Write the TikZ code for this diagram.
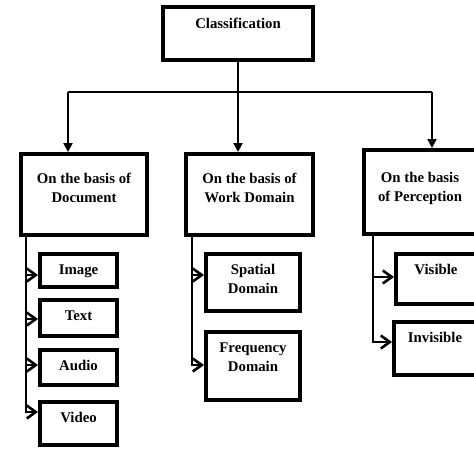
\documentclass[tikz,border=0pt]{standalone}
\usepackage{fontspec}
\setmainfont{Liberation Serif}
\usetikzlibrary{arrows.meta}

\tikzset{
	box/.style={draw, line width=2pt, anchor=north west, inner sep=0pt},
	lbl/.style={anchor=north, inner sep=0pt, yshift=-6pt, align=center, font=\fontsize{7.4}{9.5}\selectfont\bfseries},
	head/.style={lbl, yshift=-4.5pt},
	down/.style={line width=1.3pt, -{Triangle[length=4.5pt,width=4.5pt]}},
	sub/.style={line width=1.3pt, -{Straight Barb[length=4.5pt,width=6.5pt]}}
}

\begin{document}
\begin{tikzpicture}[x=0.5pt,y=-0.5pt]
	\useasboundingbox (0,0) rectangle (474,468);
	\clip (0,0) rectangle (474,468);

	% top and second level
	\node[box, minimum width=75pt, minimum height=26.5pt, label={[lbl,yshift=-0.5pt]north:Classification}] (cls) at (161,5) {};
	\node[box, minimum width=63pt, minimum height=40.5pt, label={[head]north:On the basis of\\Document}] (doc) at (19,152) {};
	\node[box, minimum width=63.5pt, minimum height=40.5pt, label={[head]north:On the basis of\\Work Domain}] (work) at (184,152) {};
	\node[box, minimum width=56pt, minimum height=42pt, label={[head,yshift=-1.5pt]north:On the basis\\of Perception}] (perc) at (362,148) {};

	% leaves
	\node[box, minimum width=38.5pt, minimum height=16.5pt, label={[lbl]north:Image}] (img) at (38,252) {};
	\node[box, minimum width=38.5pt, minimum height=18pt, label={[lbl]north:Text}] (txt) at (38,298) {};
	\node[box, minimum width=38.5pt, minimum height=17.5pt, label={[lbl]north:Audio}] (aud) at (38,348) {};
	\node[box, minimum width=38.5pt, minimum height=21.5pt, label={[lbl]north:Video}] (vid) at (38,400) {};
	\node[box, minimum width=47pt, minimum height=28.5pt, label={[lbl]north:Spatial\\Domain}] (spat) at (204,252) {};
	\node[box, minimum width=47pt, minimum height=34pt, label={[lbl]north:Frequency\\Domain}] (freq) at (204,330) {};
	\node[box, minimum width=40pt, minimum height=25pt, label={[lbl]north:Visible}] (vis) at (394,252) {};
	\node[box, minimum width=41pt, minimum height=26.5pt, label={[lbl]north:Invisible}] (invis) at (392,320) {};

	\coordinate (aL) at (68,92);
	\coordinate (aR) at (432,92);
	\coordinate (tL) at (26,0);
	\coordinate (tM) at (192,0);
	\coordinate (tR) at (373,0);

	\draw[line width=1.3pt] (aL) -- (aR);
	\draw[down] (cls.south) -- (cls.south |- work.north);
	\draw[down] (aL) -- (aL |- doc.north);
	\draw[down] (aR) -- (aR |- perc.north);

	\foreach \n/\s in {img/4.5, txt/1, aud/-2.5, vid/-11.5}
		\draw[sub] (doc.south -| tL) |- ([shift={(0,\s)}]\n.west);
	\foreach \n/\s in {spat/-7.5, freq/-1}
		\draw[sub] (work.south -| tM) |- ([shift={(0,\s)}]\n.west);
	\foreach \n/\s in {vis/-2, invis/-6.5}
		\draw[sub] (perc.south -| tR) |- ([shift={(0,\s)}]\n.west);
\end{tikzpicture}
\end{document}
